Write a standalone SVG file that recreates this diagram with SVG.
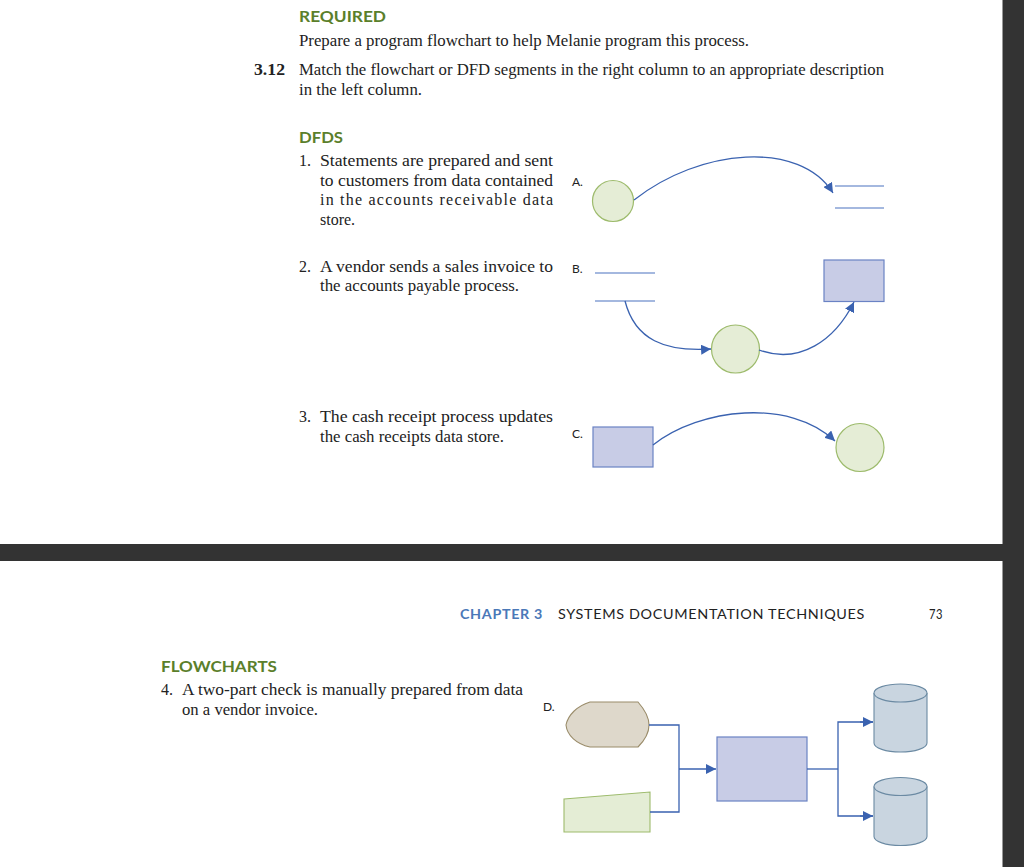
<svg xmlns="http://www.w3.org/2000/svg" width="1024" height="867" viewBox="0 0 1024 867">
<defs>
<style>
.serif{font-family:"Liberation Serif","Times New Roman",serif;font-size:16px;fill:#222}
.head{font-family:"Lato","Open Sans",sans-serif;font-weight:bold;font-size:16px;fill:#5b7f2b}
.lbl{font-family:"Lato","Open Sans",sans-serif;font-size:12px;fill:#222}
.hdr{font-family:"Lato","Open Sans",sans-serif;font-size:13px;fill:#222;letter-spacing:0.6px}
.proc{fill:#e5edd6;stroke:#9dbb6c;stroke-width:1.2}
.ent{fill:#c8cce6;stroke:#6a82c4;stroke-width:1.2}
.ds{stroke:#4a72c0;stroke-width:1.2;fill:none}
.flow{fill:none;stroke:#3a62b0;stroke-width:1.3}
.cyl{fill:#c9d5e0;stroke:#6b8aa3;stroke-width:1.1}
</style>
<marker id="ah" viewBox="0 0 10 10" refX="10" refY="5" markerWidth="10" markerHeight="10" markerUnits="userSpaceOnUse" orient="auto">
<path d="M0,0 L10,5 L0,10 Z" fill="#3a62b0"/>
</marker>
</defs>
<rect x="0" y="0" width="1024" height="867" fill="#ffffff"/>

<!-- page frame -->
<rect x="0" y="544" width="1024" height="17" fill="#333333"/>
<rect x="1002" y="0" width="22" height="867" fill="#333333"/>
<rect x="1002" y="0" width="1" height="544" fill="#999999"/>
<rect x="1002" y="561" width="1" height="306" fill="#999999"/>

<!-- top text -->
<text x="299" y="22" class="head" textLength="87" lengthAdjust="spacingAndGlyphs">REQUIRED</text>
<text x="299" y="46" class="serif" textLength="450" lengthAdjust="spacingAndGlyphs">Prepare a program flowchart to help Melanie program this process.</text>
<text x="254" y="75" class="serif" font-weight="bold" textLength="31" lengthAdjust="spacingAndGlyphs">3.12</text>
<text x="299" y="75" class="serif" textLength="585" lengthAdjust="spacingAndGlyphs">Match the flowchart or DFD segments in the right column to an appropriate description</text>
<text x="299" y="95" class="serif" textLength="123" lengthAdjust="spacingAndGlyphs">in the left column.</text>

<text x="299" y="143" class="head" textLength="44" lengthAdjust="spacingAndGlyphs">DFDS</text>
<text x="299" y="166" class="serif">1.</text>
<text x="320" y="166" class="serif" textLength="233" lengthAdjust="spacingAndGlyphs">Statements are prepared and sent</text>
<text x="320" y="186" class="serif" textLength="233" lengthAdjust="spacingAndGlyphs">to customers from data contained</text>
<text x="320" y="205" class="serif" textLength="233" lengthAdjust="spacing">in the accounts receivable data</text>
<text x="320" y="225" class="serif">store.</text>

<text x="299" y="272" class="serif">2.</text>
<text x="320" y="272" class="serif" textLength="233" lengthAdjust="spacingAndGlyphs">A vendor sends a sales invoice to</text>
<text x="320" y="291" class="serif" textLength="199" lengthAdjust="spacingAndGlyphs">the accounts payable process.</text>

<text x="299" y="422" class="serif">3.</text>
<text x="320" y="422" class="serif" textLength="233" lengthAdjust="spacingAndGlyphs">The cash receipt process updates</text>
<text x="320" y="442" class="serif" textLength="184" lengthAdjust="spacingAndGlyphs">the cash receipts data store.</text>

<text x="572" y="186" class="lbl">A.</text>
<text x="572" y="273" class="lbl">B.</text>
<text x="572" y="438" class="lbl">C.</text>

<!-- lower page header -->
<text x="460" y="619" class="hdr" style="fill:#4a78b8;font-weight:bold" textLength="83" lengthAdjust="spacingAndGlyphs">CHAPTER 3</text>
<text x="558" y="619" class="hdr" textLength="307" lengthAdjust="spacingAndGlyphs">SYSTEMS DOCUMENTATION TECHNIQUES</text>
<text x="929" y="619" class="hdr" textLength="14" lengthAdjust="spacingAndGlyphs">73</text>

<text x="161" y="672" class="head" textLength="116" lengthAdjust="spacingAndGlyphs">FLOWCHARTS</text>
<text x="161" y="695" class="serif">4.</text>
<text x="182" y="695" class="serif" textLength="341" lengthAdjust="spacingAndGlyphs">A two-part check is manually prepared from data</text>
<text x="182" y="715" class="serif" textLength="136" lengthAdjust="spacingAndGlyphs">on a vendor invoice.</text>
<text x="543" y="711" class="lbl">D.</text>

<!-- DFD A -->
<g id="A-process"><circle cx="613" cy="201" r="20.5" class="proc"/></g>
<g id="A-datastore"><line x1="835" y1="186" x2="884" y2="186" class="ds"/><line x1="835" y1="208" x2="884" y2="208" class="ds"/></g>

<!-- DFD B -->
<g id="B-datastore"><line x1="595" y1="273" x2="655" y2="273" class="ds"/><line x1="595" y1="301" x2="655" y2="301" class="ds"/></g>
<g id="B-process"><circle cx="735.5" cy="349" r="24" class="proc"/></g>
<g id="B-entity"><rect x="824" y="260" width="60" height="41.5" class="ent"/></g>

<!-- DFD C -->
<g id="C-entity"><rect x="593" y="427" width="60" height="40" class="ent"/></g>
<g id="C-process"><circle cx="860" cy="447.5" r="24" class="proc"/></g>

<!-- Flowchart D -->
<g id="D-display"><path d="M590,702 L638,702 C645,710 649,717 649,725 C649,733 645,740 638,747 L590,747 C576,744 567,735 566,725 C568,715 577,706 590,702 Z" fill="#ded8cb" stroke="#9a8c6a" stroke-width="1.1"/></g>
<g id="D-manual-input"><path d="M564,799 L650,792 L650,832 L564,832 Z" fill="#e4edd5" stroke="#9dbb6c" stroke-width="1.1"/></g>
<g id="D-process"><rect x="717" y="737" width="90" height="64" class="ent"/></g>
<g id="D-disk-1"><path d="M874,693 L874,743 A26.5,9 0 0,0 927,743 L927,693" class="cyl"/><ellipse cx="900.5" cy="693" rx="26.5" ry="9" class="cyl"/></g>
<g id="D-disk-2"><path d="M874,786.5 L874,836.5 A26.5,9 0 0,0 927,836.5 L927,786.5" class="cyl"/><ellipse cx="900.5" cy="786.5" rx="26.5" ry="9" class="cyl"/></g>

<!-- connectors -->
<g id="connectors">
<path d="M634,200 C700,148 800,140 833,193" class="flow" marker-end="url(#ah)"/>
<path d="M625,301 C635,340 665,352 711,349" class="flow" marker-end="url(#ah)"/>
<path d="M759,350 C800,365 835,340 854,302" class="flow" marker-end="url(#ah)"/>
<path d="M653,445 C700,408 790,398 835,441" class="flow" marker-end="url(#ah)"/>
<polyline points="649,725 679,725 679,812 650,812" class="flow"/>
<line x1="679" y1="769" x2="716" y2="769" class="flow" marker-end="url(#ah)"/>
<line x1="807" y1="769" x2="838" y2="769" class="flow"/>
<polyline points="873,722 838,722 838,816 873,816" class="flow"/>
<line x1="860" y1="722" x2="873" y2="722" class="flow" marker-end="url(#ah)"/>
<line x1="860" y1="816" x2="873" y2="816" class="flow" marker-end="url(#ah)"/>
</g>
</svg>
